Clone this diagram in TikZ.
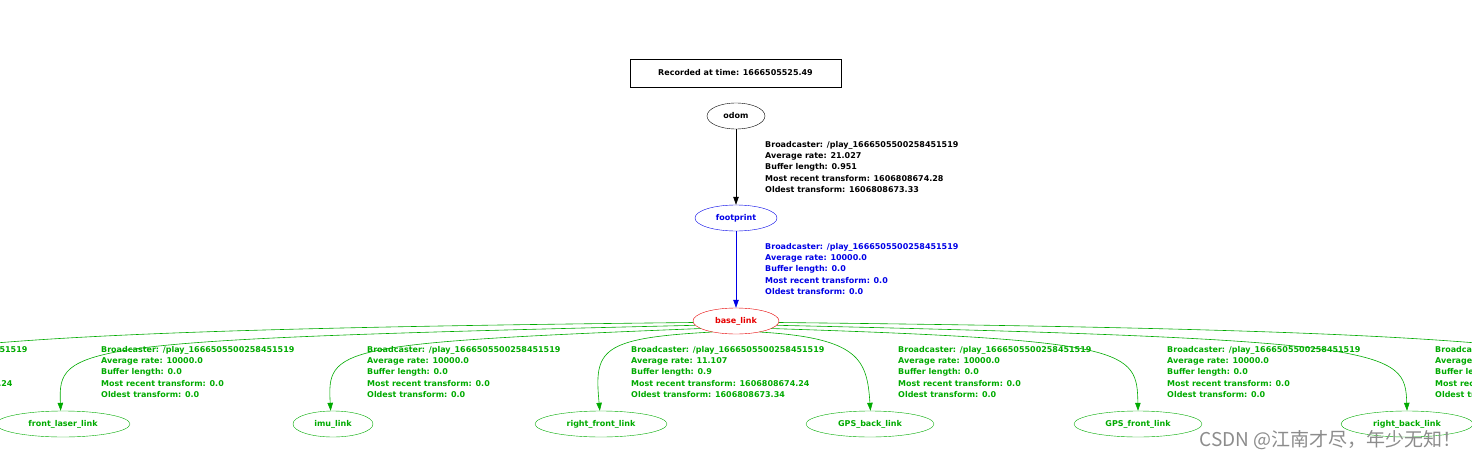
\documentclass[tikz,border=0pt]{standalone}
\usepackage{fontspec}
\setmainfont{DejaVu Sans}
\newfontfamily\cjk{Noto Sans CJK SC}
\usetikzlibrary{arrows.meta,shapes.geometric}
\definecolor{gv}{RGB}{0,170,0}
\definecolor{bl}{RGB}{0,0,230}
\definecolor{rd}{RGB}{230,0,0}
\begin{document}
\begin{tikzpicture}[x=1pt,y=-1pt,
  el/.style={ellipse,draw,inner sep=0pt,minimum height=26pt,font=\fontsize{8}{9}\selectfont\bfseries},
  lab/.style={anchor=north west,align=left,inner sep=0pt,font=\fontsize{8}{11.3}\selectfont\bfseries},
  ed/.style={-{Triangle[length=8pt,width=5.5pt]},line width=0.6pt},
  g/.style={gv,draw=gv,text=gv}]
\useasboundingbox (0,0) rectangle (1472,460);
\clip (0,0) rectangle (1472,460);
\node[draw,minimum width=211pt,minimum height=28pt,inner sep=0pt,font=\fontsize{8}{9}\selectfont\bfseries] (rec) at (735.5,73) {Recorded at time: 1666505525.49};
\node[el,minimum width=58pt] (odom) at (736,116) {odom};
\node[el,minimum width=82pt,draw=bl,text=bl] (fp) at (736,218) {footprint};
\node[el,minimum width=86pt,draw=rd,text=rd] (base) at (736,321) {base\_link};
\node[el,g,minimum width=134pt] (c0) at (-205,424) {left\_back\_link};
\node[el,g,minimum width=134pt] (c1) at (63,424) {front\_laser\_link};
\node[el,g,minimum width=80pt] (c2) at (333,424) {imu\_link};
\node[el,g,minimum width=132pt] (c3) at (601,424) {right\_front\_link};
\node[el,g,minimum width=128pt] (c4) at (870,424) {GPS\_back\_link};
\node[el,g,minimum width=128pt] (c5) at (1138,424) {GPS\_front\_link};
\node[el,g,minimum width=132pt] (c6) at (1407,424) {right\_back\_link};
\node[el,g,minimum width=132pt] (c7) at (1675,424) {left\_front\_link};
\draw[ed] (odom) -- (fp);
\draw[ed,bl] (fp) -- (base);
\begin{scope}[gv]
\draw[ed] (base.182) .. controls (0,330) and (-200,345) .. (c0.north);
\draw[ed] (base.186) .. controls (70,340) and (58,345) .. (c1.100);
\draw[ed] (base.192) .. controls (335,343) and (327,348) .. (c2.100);
\draw[ed] (base.205) .. controls (600,338) and (594,350) .. (c3.95);
\draw[ed] (base.335) .. controls (860,338) and (867,360) .. (c4.88);
\draw[ed] (base.348) .. controls (1130,340) and (1137,350) .. (c5.north);
\draw[ed] (base.354) .. controls (1395,339) and (1405,350) .. (c6.north);
\draw[ed] (base.358) .. controls (1470,330) and (1675,345) .. (c7.north);
\end{scope}
\node[lab] (l1) at (765,141) {Broadcaster: /play\_1666505500258451519\\Average rate: 21.027\\Buffer length: 0.951\\Most recent transform: 1606808674.28\\Oldest transform: 1606808673.33};
\node[lab,text=bl] (l2) at (765,243) {Broadcaster: /play\_1666505500258451519\\Average rate: 10000.0\\Buffer length: 0.0\\Most recent transform: 0.0\\Oldest transform: 0.0};
\foreach \n/\x in {a/101,b/367,d/898,e/1167,f/1435}
  \node[lab,text=gv] (l\n) at (\x,346) {Broadcaster: /play\_1666505500258451519\\Average rate: 10000.0\\Buffer length: 0.0\\Most recent transform: 0.0\\Oldest transform: 0.0};
\foreach \n/\x in {z/-166,c/631}
  \node[lab,text=gv] (l\n) at (\x,346) {Broadcaster: /play\_1666505500258451519\\Average rate: 11.107\\Buffer length: 0.9\\Most recent transform: 1606808674.24\\Oldest transform: 1606808673.34};
\node[anchor=east,inner sep=0pt,text=black!45,font=\cjk\fontsize{19}{21}\selectfont] (wm) at (1462,440) {CSDN @江南才尽，年少无知！};
\end{tikzpicture}
\end{document}
